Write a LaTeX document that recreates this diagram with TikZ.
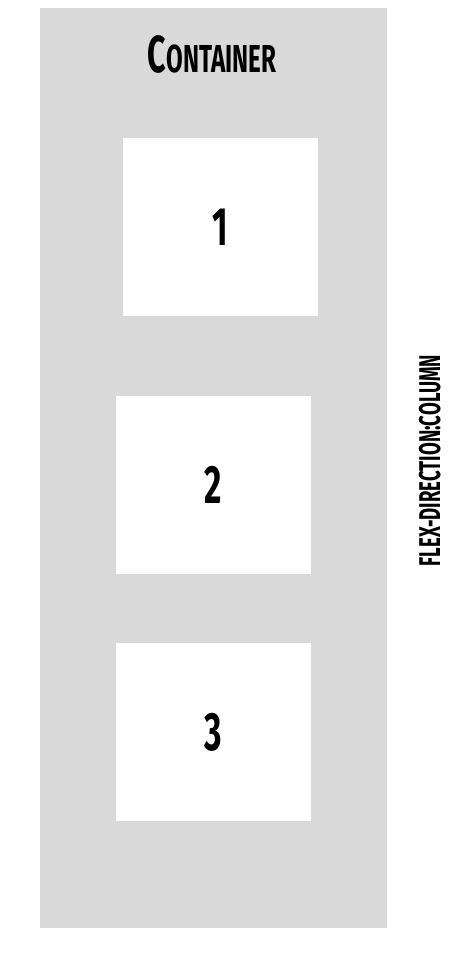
\documentclass[tikz,border=0pt]{standalone}
\usepackage{fontspec}
\newfontfamily\handfont[FakeStretch=0.62]{Fira Sans Bold}
\definecolor{boxgray}{RGB}{217,217,217}
\tikzset{
  item/.style={fill=white, minimum width=195pt, minimum height=178pt, inner sep=0pt,
    font=\handfont\fontsize{54}{54}\selectfont}
}
\begin{document}
\begin{tikzpicture}[x=1pt,y=-1pt]
   \useasboundingbox (0,0) rectangle (474,972);
   \fill [boxgray] (40,8) rectangle (387,928);
   \node (title) [anchor=base, inner sep=0pt] at (212,72)
      {\handfont\fontsize{52}{52}\selectfont C\fontsize{39}{39}\selectfont ONTAINER};
   \node (item1) [item] at (220.5,227) {1};
   \node (item2) [item] at (213.5,485) {2};
   \node (item3) [item] at (213.5,732) {3};
   \node (dir) [rotate=90, anchor=base, inner sep=0pt] at (440,460.5)
      {\handfont\fontsize{30}{30}\selectfont FLEX-DIRECTION:COLUMN};
\end{tikzpicture}
\end{document}
